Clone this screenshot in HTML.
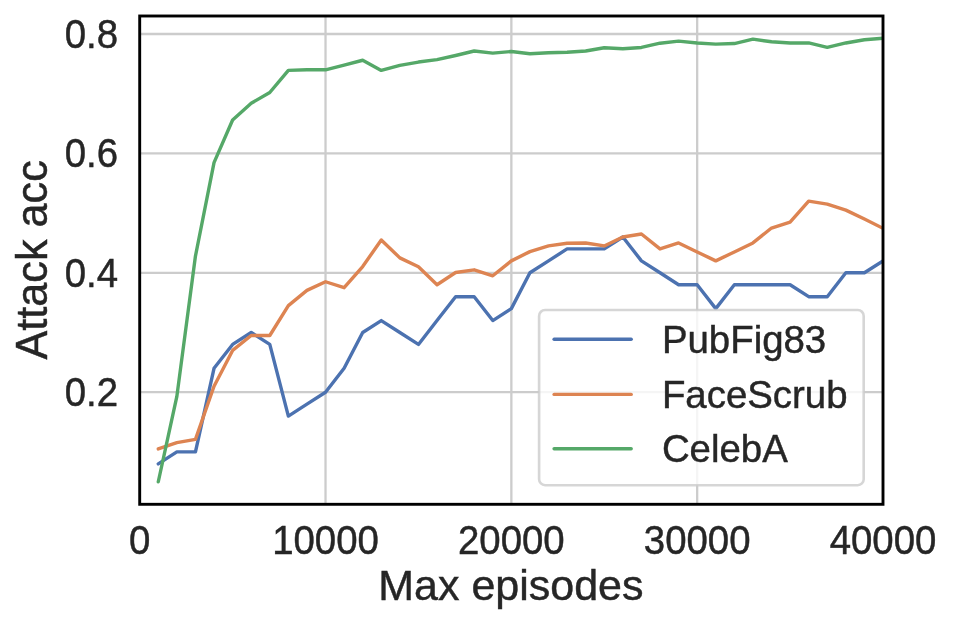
<!DOCTYPE html>
<html lang="en"><head><meta charset="utf-8"><title>Attack acc vs Max episodes</title>
<style>html,body{margin:0;padding:0;background:#fff;}svg{display:block;}text{font-family:"Liberation Sans",Arial,sans-serif;fill:#262626;stroke:#262626;stroke-width:0.45px;}</style></head><body>
<svg width="953" height="626" viewBox="0 0 953 626">
<rect x="0" y="0" width="953" height="626" fill="#ffffff"/>
<g stroke="#cccccc" stroke-width="2.30" fill="none">
<line x1="325.52" y1="16.00" x2="325.52" y2="504.30"/>
<line x1="511.35" y1="16.00" x2="511.35" y2="504.30"/>
<line x1="697.17" y1="16.00" x2="697.17" y2="504.30"/>
<line x1="139.70" y1="392.20" x2="883.00" y2="392.20"/>
<line x1="139.70" y1="272.80" x2="883.00" y2="272.80"/>
<line x1="139.70" y1="153.40" x2="883.00" y2="153.40"/>
<line x1="139.70" y1="34.00" x2="883.00" y2="34.00"/>
</g>
<defs><clipPath id="axclip"><rect x="139.70" y="16.00" width="743.30" height="488.30"/></clipPath></defs>
<g fill="none" stroke-width="3.40" stroke-linecap="round" stroke-linejoin="round" clip-path="url(#axclip)">
<polyline stroke="#4c72b0" points="158.28,463.84 176.86,451.90 195.45,451.90 214.03,368.32 232.61,344.44 251.19,332.50 269.78,344.44 288.36,416.08 306.94,404.14 325.52,392.20 344.11,368.32 362.69,332.50 381.27,320.56 399.85,332.50 418.44,344.44 437.02,320.56 455.60,296.68 474.19,296.68 492.77,320.56 511.35,308.62 529.93,272.80 548.51,260.86 567.10,248.92 585.68,248.92 604.26,248.92 622.85,236.98 641.43,260.86 660.01,272.80 678.59,284.74 697.17,284.74 715.76,308.62 734.34,284.74 752.92,284.74 771.50,284.74 790.09,284.74 808.67,296.68 827.25,296.68 845.84,272.80 864.42,272.80 883.00,260.86"/>
<polyline stroke="#dd8452" points="158.28,448.92 176.86,442.65 195.45,439.36 214.03,386.23 232.61,350.41 251.19,335.49 269.78,335.49 288.36,305.64 306.94,290.41 325.52,281.75 344.11,287.73 362.69,266.53 381.27,239.97 399.85,257.88 418.44,266.83 437.02,284.74 455.60,272.50 474.19,269.81 492.77,275.79 511.35,260.86 529.93,251.61 548.51,245.94 567.10,243.25 585.68,242.95 604.26,245.94 622.85,236.98 641.43,234.00 660.01,248.92 678.59,242.95 697.17,251.91 715.76,260.86 734.34,251.91 752.92,242.95 771.50,228.03 790.09,222.06 808.67,201.16 827.25,204.15 845.84,210.12 864.42,219.07 883.00,228.32"/>
<polyline stroke="#55a868" points="158.28,481.75 176.86,396.38 195.45,256.08 214.03,162.59 232.61,119.97 251.19,103.25 269.78,92.51 288.36,70.42 306.94,69.82 325.52,69.82 344.11,65.04 362.69,60.27 381.27,70.42 399.85,65.34 418.44,62.06 437.02,59.67 455.60,55.49 474.19,51.01 492.77,53.10 511.35,51.49 529.93,53.70 548.51,52.75 567.10,52.21 585.68,51.01 604.26,47.73 622.85,48.69 641.43,47.43 660.01,43.19 678.59,41.16 697.17,42.96 715.76,44.15 734.34,43.55 752.92,39.13 771.50,41.76 790.09,42.96 808.67,42.96 827.25,47.31 845.84,42.96 864.42,39.79 883.00,38.18"/>
</g>
<rect x="539.10" y="310.00" width="324.60" height="175.20" rx="6" ry="6" fill="#ffffff" fill-opacity="0.8" stroke="#cccccc" stroke-opacity="0.8" stroke-width="2.6"/>
<line x1="554.1" y1="339.20" x2="631.2" y2="339.20" stroke="#4c72b0" stroke-width="3.40" stroke-linecap="round"/>
<text transform="translate(661.9,353.00) scale(1,1.020)" font-size="38.40">PubFig83</text>
<line x1="554.1" y1="394.40" x2="631.2" y2="394.40" stroke="#dd8452" stroke-width="3.40" stroke-linecap="round"/>
<text transform="translate(661.9,408.10) scale(1,1.020)" font-size="38.40">FaceScrub</text>
<line x1="554.1" y1="448.70" x2="631.2" y2="448.70" stroke="#55a868" stroke-width="3.40" stroke-linecap="round"/>
<text transform="translate(661.9,461.80) scale(1,1.020)" font-size="38.40">CelebA</text>
<rect x="139.70" y="16.00" width="743.30" height="488.30" fill="none" stroke="#000000" stroke-width="2.90"/>
<text transform="translate(118.05,406.00) scale(1,1.070)" font-size="38.40" text-anchor="end">0.2</text>
<text transform="translate(118.05,286.60) scale(1,1.070)" font-size="38.40" text-anchor="end">0.4</text>
<text transform="translate(118.05,167.20) scale(1,1.070)" font-size="38.40" text-anchor="end">0.6</text>
<text transform="translate(118.05,47.80) scale(1,1.070)" font-size="38.40" text-anchor="end">0.8</text>
<text transform="translate(139.70,553.8) scale(1,1.070)" font-size="38.40" text-anchor="middle">0</text>
<text transform="translate(325.52,553.8) scale(1,1.070)" font-size="38.40" text-anchor="middle">10000</text>
<text transform="translate(511.35,553.8) scale(1,1.070)" font-size="38.40" text-anchor="middle">20000</text>
<text transform="translate(697.17,553.8) scale(1,1.070)" font-size="38.40" text-anchor="middle">30000</text>
<text transform="translate(883.00,553.8) scale(1,1.070)" font-size="38.40" text-anchor="middle">40000</text>
<text transform="translate(510.85,600.2) scale(1,0.985)" font-size="43.00" text-anchor="middle">Max episodes</text>
<text transform="translate(47.2,259.85) rotate(-90) scale(1,1.025)" font-size="43.20" text-anchor="middle">Attack acc</text>
</svg></body></html>
